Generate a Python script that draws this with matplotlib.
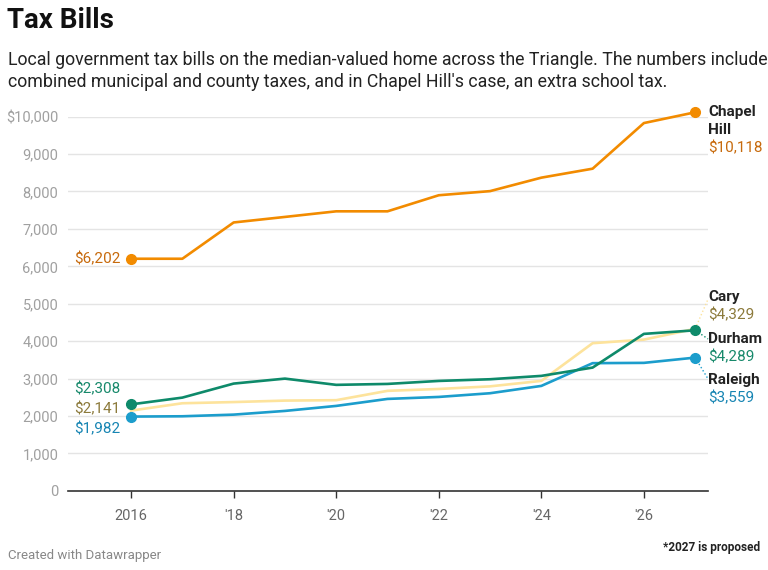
import matplotlib
matplotlib.use("Agg")
import matplotlib.pyplot as plt

plt.rcParams['font.family'] = ['Roboto', 'DejaVu Sans']

years = [2016, 2017, 2018, 2019, 2020, 2021, 2022, 2023, 2024, 2025, 2026, 2027]
chapel_hill = [6202, 6202, 7172, 7320, 7470, 7470, 7900, 8010, 8370, 8610, 9830, 10118]
cary = [2141, 2338, 2370, 2409, 2420, 2670, 2720, 2790, 2936, 3944, 4040, 4329]
durham = [2308, 2489, 2864, 2997, 2830, 2855, 2935, 2980, 3070, 3292, 4193, 4289]
raleigh = [1982, 1990, 2034, 2133, 2267, 2454, 2507, 2606, 2802, 3410, 3418, 3559]

tick_years = [2016, 2018, 2020, 2022, 2024, 2026]
tick_labels = ["2016", "'18", "'20", "'22", "'24", "'26"]
y_ticks = [0, 1000, 2000, 3000, 4000, 5000, 6000, 7000, 8000, 9000, 10000]
y_labels = ["0", "1,000", "2,000", "3,000", "4,000", "5,000", "6,000", "7,000", "8,000", "9,000", "$10,000"]

ORANGE, ORANGE_TXT = "#f28b00", "#c76a0c"
CARY, CARY_TXT = "#fde39c", "#8c7a3b"
GREEN, GREEN_TXT = "#0e8a6a", "#17896b"
BLUE, BLUE_TXT = "#1c9dcc", "#1785b3"

W, H = 768, 570
fig = plt.figure(figsize=(W / 100, H / 100), dpi=100)
ax = fig.add_axes([68 / W, 1 - 490.7 / H, (708 - 68) / W, (490.7 - 116.7) / H])

ax.set_xlim(2014.77, 2027.25)
ax.set_ylim(0, 10000)

for v in y_ticks[1:]:
    ax.axhline(v, color="#e4e4e4", lw=1.0, zorder=0)

series = [(cary, CARY), (raleigh, BLUE), (durham, GREEN), (chapel_hill, ORANGE)]
for vals, col in series:
    ax.plot(years, vals, color=col, lw=1.9, clip_on=False, zorder=3)

# start / end dots
for vals, col in [(chapel_hill, ORANGE), (durham, GREEN), (raleigh, BLUE)]:
    ax.plot([years[0], years[-1]], [vals[0], vals[-1]], "o", color=col, ms=7, clip_on=False, zorder=4)

for sp in ["top", "right", "left"]:
    ax.spines[sp].set_visible(False)
ax.spines["bottom"].set_color("#333333")
ax.spines["bottom"].set_linewidth(1.2)

ax.set_xticks(tick_years)
ax.set_xticklabels(tick_labels)
ax.tick_params(axis="x", length=5, width=1, color="#333333", labelsize=10.5, pad=8, labelcolor="#666666")
ax.set_yticks(y_ticks)
ax.set_yticklabels(y_labels)
ax.tick_params(axis="y", length=0, labelsize=10.5, labelcolor="#a0a0a0", pad=7)

# left value labels
lx0 = 2015.79
ax.text(lx0, chapel_hill[0], "$6,202", color=ORANGE_TXT, fontsize=11, ha="right", va="center")
ax.text(lx0, 2720, "$2,308", color=GREEN_TXT, fontsize=11, ha="right", va="center")
ax.text(lx0, 2186, "$2,141", color=CARY_TXT, fontsize=11, ha="right", va="center")
ax.text(lx0, 1651, "$1,982", color=BLUE_TXT, fontsize=11, ha="right", va="center")

# right labels
lx = 2027.25
ax.text(lx, 10134, "Chapel", fontsize=11, fontweight="bold", color="#222222", ha="left", va="center")
ax.text(lx, 9653, "Hill", fontsize=11, fontweight="bold", color="#222222", ha="left", va="center")
ax.text(lx, 9171, "$10,118", fontsize=11, color=ORANGE_TXT, ha="left", va="center")

ax.text(lx, 5181, "Cary", fontsize=11, fontweight="bold", color="#222222", ha="left", va="center")
ax.text(lx, 4700, "$4,329", fontsize=11, color=CARY_TXT, ha="left", va="center")
ax.text(lx, 4058, "Durham", fontsize=11, fontweight="bold", color="#222222", ha="left", va="center")
ax.text(lx, 3577, "$4,289", fontsize=11, color=GREEN_TXT, ha="left", va="center")
ax.text(lx, 2962, "Raleigh", fontsize=11, fontweight="bold", color="#222222", ha="left", va="center")
ax.text(lx, 2481, "$3,559", fontsize=11, color=BLUE_TXT, ha="left", va="center")

# dotted leaders
ax.plot([2027, 2027.25], [4329, 5120], ls=":", color=CARY, lw=1, clip_on=False)
ax.plot([2027, 2027.25], [4289, 4058], ls=":", color=GREEN, lw=1, clip_on=False)
ax.plot([2027, 2027.25], [3559, 2990], ls=":", color=BLUE, lw=1, clip_on=False)

# titles and notes
fig.text(7 / W, 1 - 21 / H, "Tax Bills", fontsize=20, fontweight="bold", color="#111111", va="center")
fig.text(8 / W, 1 - 60 / H, "Local government tax bills on the median-valued home across the Triangle. The numbers include",
         fontsize=12.75, color="#222222", va="center")
fig.text(8 / W, 1 - 82 / H, "combined municipal and county taxes, and in Chapel Hill's case, an extra school tax.",
         fontsize=12.75, color="#222222", va="center")
fig.text(8 / W, 1 - 555 / H, "Created with Datawrapper", fontsize=9.5, color="#888888", va="center")
fig.text(760 / W, 1 - 548 / H, "*2027 is proposed", fontsize=8.5, fontweight="bold", color="#222222",
         ha="right", va="center")

fig.savefig("out.png", dpi=100)
